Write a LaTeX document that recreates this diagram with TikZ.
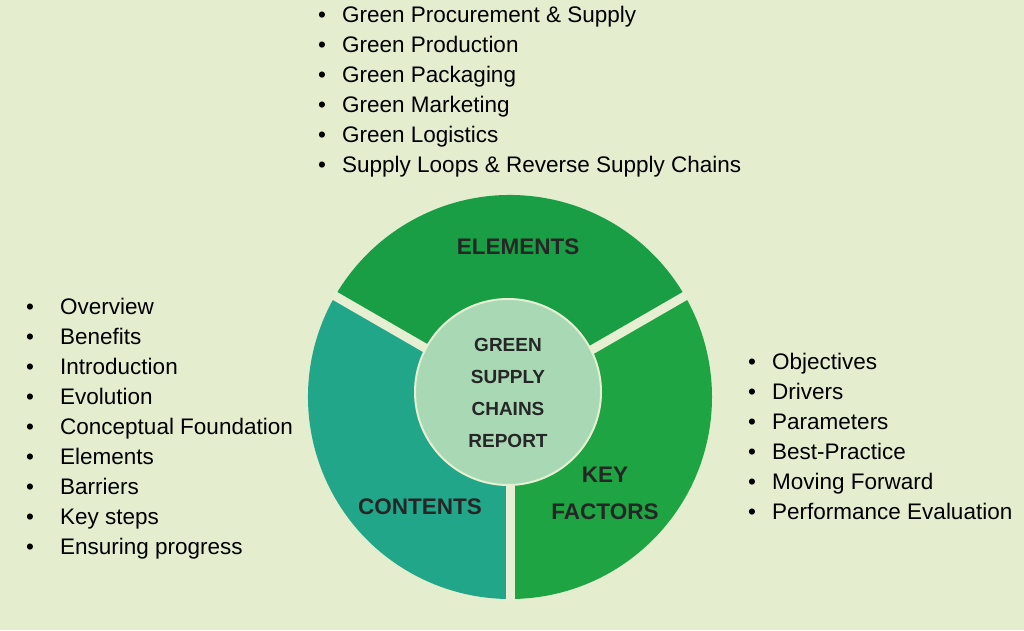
\documentclass[tikz,border=0pt]{standalone}
\usepackage{fontspec}
\setmainfont{Liberation Sans}
\definecolor{bg}{HTML}{E4EECF}
\definecolor{segtop}{HTML}{1A9E45}
\definecolor{segleft}{HTML}{22A68A}
\definecolor{segright}{HTML}{1EA442}
\definecolor{inner}{HTML}{A8D9B4}
\definecolor{gapc}{HTML}{E6EFD2}
\begin{document}
\begin{tikzpicture}[x=1pt,y=1pt,
  lst/.style={anchor=base west,font=\fontsize{22.5}{26}\selectfont,inner sep=0pt},
  bul/.style={anchor=base,font=\fontsize{22.5}{26}\selectfont,inner sep=0pt},
  lab/.style={font=\fontsize{22.5}{26}\selectfont\bfseries,text=black!85},
  ctr/.style={font=\fontsize{19}{22}\selectfont\bfseries,text=black!85}]
\fill[bg] (0,0) rectangle (1024,630);
\coordinate (c) at (510,233);
\fill[segtop] (c) ++(30:202) arc[start angle=30,end angle=150,radius=202] -- (c) -- cycle;
\fill[segleft] (c) ++(150:202) arc[start angle=150,end angle=270,radius=202] -- (c) -- cycle;
\fill[segright] (c) ++(-90:202) arc[start angle=-90,end angle=30,radius=202] -- (c) -- cycle;
\foreach \a in {30,150,270} \draw[gapc,line width=9pt] (c) -- ++(\a:204);
\node[circle,fill=inner,draw=gapc,line width=2pt,minimum size=186pt] (core) at (508,238) {};
\node[ctr] (t1) at (508,285) {GREEN};
\node[ctr] (t2) at (508,253) {SUPPLY};
\node[ctr] (t3) at (508,221) {CHAINS};
\node[ctr] (t4) at (508,189) {REPORT};
\node[lab] (el) at (518,383) {ELEMENTS};
\node[lab] (co) at (420,123) {CONTENTS};
\node[lab] (k1) at (605,155) {KEY};
\node[lab] (k2) at (605,118) {FACTORS};
\foreach \t [count=\i] in {Green Procurement \& Supply,Green Production,Green Packaging,Green Marketing,Green Logistics,Supply Loops \& Reverse Supply Chains}{
  \node[bul] (tb\i) at (322,637-30*\i) {\textbullet};
  \node[lst] (tt\i) at (342,637-30*\i) {\t};}
\foreach \t [count=\i] in {Overview,Benefits,Introduction,Evolution,Conceptual Foundation,Elements,Barriers,Key steps,Ensuring progress}{
  \node[bul] (lb\i) at (30,346-30*\i) {\textbullet};
  \node[lst] (lt\i) at (60,346-30*\i) {\t};}
\foreach \t [count=\i] in {Objectives,Drivers,Parameters,Best-Practice,Moving Forward,Performance Evaluation}{
  \node[bul] (rb\i) at (752,291-30*\i) {\textbullet};
  \node[lst] (rt\i) at (772,291-30*\i) {\t};}
\end{tikzpicture}
\end{document}
